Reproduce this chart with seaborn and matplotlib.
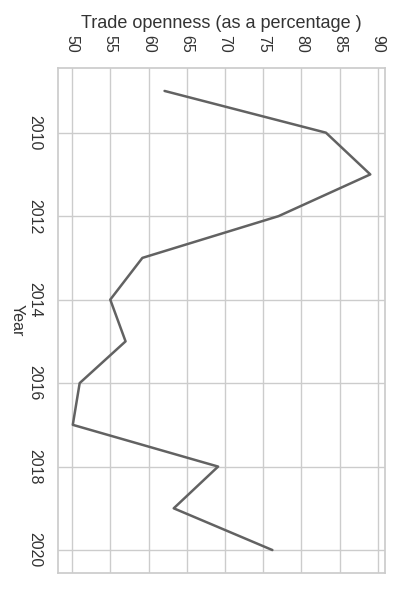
import pandas as pd
import matplotlib
matplotlib.use("Agg")
import matplotlib.pyplot as plt
import seaborn as sns

# Trade openness by year
years = [2009, 2010, 2011, 2012, 2013, 2014, 2015, 2016, 2017, 2018, 2019, 2020]
openness = [62.1, 83.2, 89.0, 77.0, 59.2, 55.0, 57.0, 51.0, 50.1, 69.1, 63.3, 76.2]
value_ticks = [50, 55, 60, 65, 70, 75, 80, 85, 90]
year_ticks = [2010, 2012, 2014, 2016, 2018, 2020]

df = pd.DataFrame({"Year": years, "Trade openness (as a percentage )": openness})

sns.set_theme(style="whitegrid")
plt.rcParams["font.family"] = ["Liberation Sans", "DejaVu Sans"]

fig = plt.figure(figsize=(4.05, 6.07), dpi=100)
ax = fig.add_axes([0.143, 0.056, 0.808, 0.832])

# the chart is a line plot turned on its side
sns.lineplot(data=df, x="Trade openness (as a percentage )", y="Year",
             orient="y", color="#626262", linewidth=1.8, ax=ax)

ax.invert_yaxis()
ax.xaxis.set_label_position("top")
ax.xaxis.tick_top()
ax.set_xticks(value_ticks)
ax.set_yticks(year_ticks)
ax.tick_params(axis="both", length=0, labelsize=11.5, labelcolor="#333333", pad=11)
for lab in ax.get_xticklabels():
    lab.set_rotation(270)
for lab in ax.get_yticklabels():
    lab.set_rotation(270)
    lab.set_va("center")

ax.set_xlabel("Trade openness (as a percentage )", fontsize=13, color="#333333", labelpad=5)
ax.set_ylabel("Year", fontsize=11.5, color="#333333", rotation=270)
ax.yaxis.set_label_coords(-0.125, 0.5)
ax.yaxis.label.set_ha("center")
ax.yaxis.label.set_va("center")

fig.savefig("out.png", dpi=100)
